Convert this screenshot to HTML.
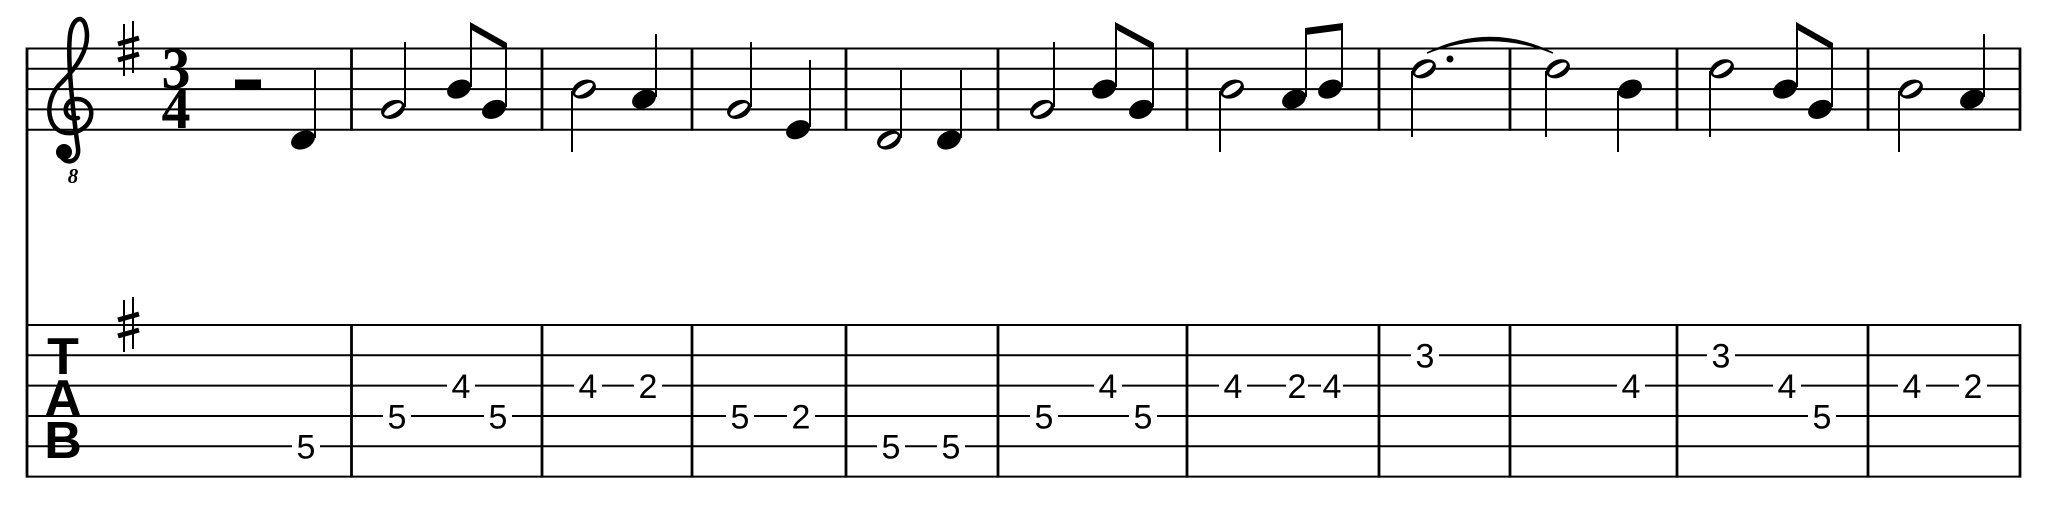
<!DOCTYPE html>
<html><head><style>html,body{margin:0;padding:0;background:#fff;}svg{display:block}</style></head>
<body>
<svg width="2048" height="528" viewBox="0 0 2048 528" xmlns="http://www.w3.org/2000/svg">
<g stroke="#000" stroke-width="2" fill="none">
  <line x1="27" y1="48.5" x2="2020" y2="48.5"/>
  <line x1="27" y1="68.8" x2="2020" y2="68.8"/>
  <line x1="27" y1="89.1" x2="2020" y2="89.1"/>
  <line x1="27" y1="109.4" x2="2020" y2="109.4"/>
  <line x1="27" y1="129.7" x2="2020" y2="129.7"/>
</g>
<line x1="27" y1="47.5" x2="27" y2="477.6" stroke="#000" stroke-width="2.8"/>
<g stroke="#000" stroke-width="2.8">
  <line x1="351.5" y1="47.5" x2="351.5" y2="130.7"/>
  <line x1="542" y1="47.5" x2="542" y2="130.7"/>
  <line x1="692" y1="47.5" x2="692" y2="130.7"/>
  <line x1="846" y1="47.5" x2="846" y2="130.7"/>
  <line x1="998" y1="47.5" x2="998" y2="130.7"/>
  <line x1="1187" y1="47.5" x2="1187" y2="130.7"/>
  <line x1="1379" y1="47.5" x2="1379" y2="130.7"/>
  <line x1="1510" y1="47.5" x2="1510" y2="130.7"/>
  <line x1="1677" y1="47.5" x2="1677" y2="130.7"/>
  <line x1="1868" y1="47.5" x2="1868" y2="130.7"/>
  <line x1="2020" y1="47.5" x2="2020" y2="130.7"/>
</g>
<g transform="translate(0,3)">
<g stroke="#000" stroke-width="2" fill="none">
  <line x1="27" y1="322" x2="2020" y2="322"/>
  <line x1="27" y1="352.3" x2="2020" y2="352.3"/>
  <line x1="27" y1="382.6" x2="2020" y2="382.6"/>
  <line x1="27" y1="413" x2="2020" y2="413"/>
  <line x1="27" y1="443.3" x2="2020" y2="443.3"/>
  <line x1="27" y1="473.6" x2="2020" y2="473.6"/>
</g>
<g stroke="#000" stroke-width="2.8">
  <line x1="351.5" y1="321" x2="351.5" y2="474.6"/>
  <line x1="542" y1="321" x2="542" y2="474.6"/>
  <line x1="692" y1="321" x2="692" y2="474.6"/>
  <line x1="846" y1="321" x2="846" y2="474.6"/>
  <line x1="998" y1="321" x2="998" y2="474.6"/>
  <line x1="1187" y1="321" x2="1187" y2="474.6"/>
  <line x1="1379" y1="321" x2="1379" y2="474.6"/>
  <line x1="1510" y1="321" x2="1510" y2="474.6"/>
  <line x1="1677" y1="321" x2="1677" y2="474.6"/>
  <line x1="1868" y1="321" x2="1868" y2="474.6"/>
  <line x1="2020" y1="321" x2="2020" y2="474.6"/>
</g>
<g stroke="#000">
  <line x1="124" y1="297" x2="124" y2="349" stroke-width="2"/>
  <line x1="133" y1="294" x2="133" y2="346" stroke-width="2"/>
  <line x1="118" y1="317" x2="139" y2="311" stroke-width="5"/>
  <line x1="118" y1="333" x2="139" y2="327" stroke-width="5"/>
</g>
<g font-family="Liberation Sans, sans-serif" font-weight="bold" font-size="52" text-anchor="middle">
  <text x="63" y="371">T</text>
  <text x="63" y="413">A</text>
  <text x="63" y="455">B</text>
</g>
<g fill="#fff">
  <rect x="292" y="430" width="28" height="26"/>
  <rect x="383" y="400" width="28" height="26"/><rect x="447" y="370" width="28" height="26"/><rect x="484" y="400" width="28" height="26"/>
  <rect x="574" y="370" width="28" height="26"/><rect x="634" y="370" width="28" height="26"/>
  <rect x="726" y="400" width="28" height="26"/><rect x="787" y="400" width="28" height="26"/>
  <rect x="877" y="430" width="28" height="26"/><rect x="937" y="430" width="28" height="26"/>
  <rect x="1030" y="400" width="28" height="26"/><rect x="1094" y="370" width="28" height="26"/><rect x="1129" y="400" width="28" height="26"/>
  <rect x="1219" y="370" width="28" height="26"/><rect x="1286" y="370" width="22" height="26"/><rect x="1321" y="370" width="22" height="26"/>
  <rect x="1411" y="339" width="28" height="26"/>
  <rect x="1617" y="370" width="28" height="26"/>
  <rect x="1707" y="339" width="28" height="26"/><rect x="1773" y="370" width="28" height="26"/><rect x="1808" y="400" width="28" height="26"/>
  <rect x="1898" y="370" width="28" height="26"/><rect x="1959" y="370" width="28" height="26"/>
</g>
<g font-family="Liberation Sans, sans-serif" font-size="34" text-anchor="middle">
  <text x="306" y="455.6">5</text>
  <text x="397" y="425.3">5</text><text x="461" y="395">4</text><text x="498" y="425.3">5</text>
  <text x="588" y="395">4</text><text x="648" y="395">2</text>
  <text x="740" y="425.3">5</text><text x="801" y="425.3">2</text>
  <text x="891" y="455.6">5</text><text x="951" y="455.6">5</text>
  <text x="1044" y="425.3">5</text><text x="1108" y="395">4</text><text x="1143" y="425.3">5</text>
  <text x="1233" y="395">4</text><text x="1297" y="395">2</text><text x="1332" y="395">4</text>
  <text x="1425" y="364.6">3</text>
  <text x="1631" y="395">4</text>
  <text x="1721" y="364.6">3</text><text x="1787" y="395">4</text><text x="1822" y="425.3">5</text>
  <text x="1912" y="395">4</text><text x="1973" y="395">2</text>
</g>
</g>
<!-- clef -->
<g fill="none" stroke="#000" stroke-width="4.5" stroke-linecap="round">
  <path d="M78 118 C62 122, 62 100, 76 99 C96 98, 98 128, 72 133 C46 136, 42 100, 62 82 C80 64, 92 44, 85 24 C81 14, 72 20, 70 35 C67 62, 74 120, 78 148 C80 164, 62 166, 60 152"/>
</g>
<circle cx="64" cy="152" r="8" fill="#000"/>
<text x="73" y="183" font-family="Liberation Serif, serif" font-style="italic" font-weight="bold" font-size="21" text-anchor="middle">8</text>
<g stroke="#000">
  <line x1="124" y1="24" x2="124" y2="76" stroke-width="2"/>
  <line x1="133" y1="21" x2="133" y2="73" stroke-width="2"/>
  <line x1="118" y1="44" x2="139" y2="38" stroke-width="5"/>
  <line x1="118" y1="60" x2="139" y2="54" stroke-width="5"/>
</g>
<g font-family="Liberation Serif, serif" font-weight="bold" font-size="58" text-anchor="middle">
  <text x="176" y="88">3</text>
  <text x="176" y="128">4</text>
</g>
<rect x="235" y="79.5" width="26" height="10" fill="#000"/>
<defs>
  <g id="q"><ellipse cx="0" cy="0" rx="12.5" ry="8.8" transform="rotate(-25)" fill="#000"/></g>
  <g id="h"><ellipse cx="0" cy="0" rx="12.5" ry="8.8" transform="rotate(-25)" fill="#000"/><ellipse cx="0" cy="0" rx="10" ry="4" transform="rotate(-32)" fill="#fff"/></g>
</defs>
<g>
  <use href="#q" x="303" y="140"/>
  <use href="#h" x="393" y="109.4"/>
  <use href="#q" x="459" y="89.1"/><use href="#q" x="494" y="109.4"/>
  <use href="#h" x="584" y="89.1"/><use href="#q" x="644" y="99.2"/>
  <use href="#h" x="739" y="109.4"/><use href="#q" x="798" y="129.7"/>
  <use href="#h" x="889" y="140"/><use href="#q" x="949" y="140"/>
  <use href="#h" x="1042" y="109.4"/><use href="#q" x="1104" y="89.1"/><use href="#q" x="1141" y="109.4"/>
  <use href="#h" x="1232" y="89.1"/><use href="#q" x="1294" y="99.2"/><use href="#q" x="1330" y="89.1"/>
  <use href="#h" x="1424" y="68.8"/>
  <use href="#h" x="1558" y="68.8"/><use href="#q" x="1630" y="89.1"/>
  <use href="#h" x="1722" y="68.8"/><use href="#q" x="1785" y="89.1"/><use href="#q" x="1820" y="109.4"/>
  <use href="#h" x="1911" y="89.1"/><use href="#q" x="1972" y="99.2"/>
</g>
<g stroke="#000" stroke-width="2">
  <line x1="315" y1="138" x2="315" y2="70"/>
  <line x1="405" y1="107" x2="405" y2="42"/>
  <line x1="471" y1="87" x2="471" y2="23"/><line x1="506" y1="107" x2="506" y2="44"/>
  <line x1="572" y1="91" x2="572" y2="152"/><line x1="656" y1="97" x2="656" y2="34"/>
  <line x1="751" y1="107" x2="751" y2="42"/><line x1="810" y1="127" x2="810" y2="60"/>
  <line x1="901" y1="138" x2="901" y2="70"/><line x1="961" y1="138" x2="961" y2="70"/>
  <line x1="1054" y1="107" x2="1054" y2="42"/><line x1="1116" y1="87" x2="1116" y2="23"/><line x1="1153" y1="107" x2="1153" y2="44"/>
  <line x1="1220" y1="91" x2="1220" y2="152"/><line x1="1306" y1="97" x2="1306" y2="29"/><line x1="1342" y1="87" x2="1342" y2="24"/>
  <line x1="1412" y1="71" x2="1412" y2="137"/>
  <line x1="1546" y1="71" x2="1546" y2="137"/><line x1="1618" y1="91" x2="1618" y2="152"/>
  <line x1="1710" y1="71" x2="1710" y2="137"/><line x1="1797" y1="87" x2="1797" y2="23"/><line x1="1832" y1="107" x2="1832" y2="44"/>
  <line x1="1899" y1="91" x2="1899" y2="152"/><line x1="1984" y1="97" x2="1984" y2="34"/>
</g>
<g fill="#000">
  <polygon points="470,22 507,43 507,50 470,29"/>
  <polygon points="1115,22 1154,43 1154,50 1115,29"/>
  <polygon points="1305,28 1343,23 1343,30 1305,35"/>
  <polygon points="1796,22 1833,43 1833,50 1796,29"/>
</g>
<path d="M1427 53 Q1490 22 1553 53 Q1490 28 1427 53 Z" fill="#000" stroke="#000" stroke-width="1.5"/>
<circle cx="1450" cy="59" r="3.5" fill="#000"/>
</svg>
</body></html>
